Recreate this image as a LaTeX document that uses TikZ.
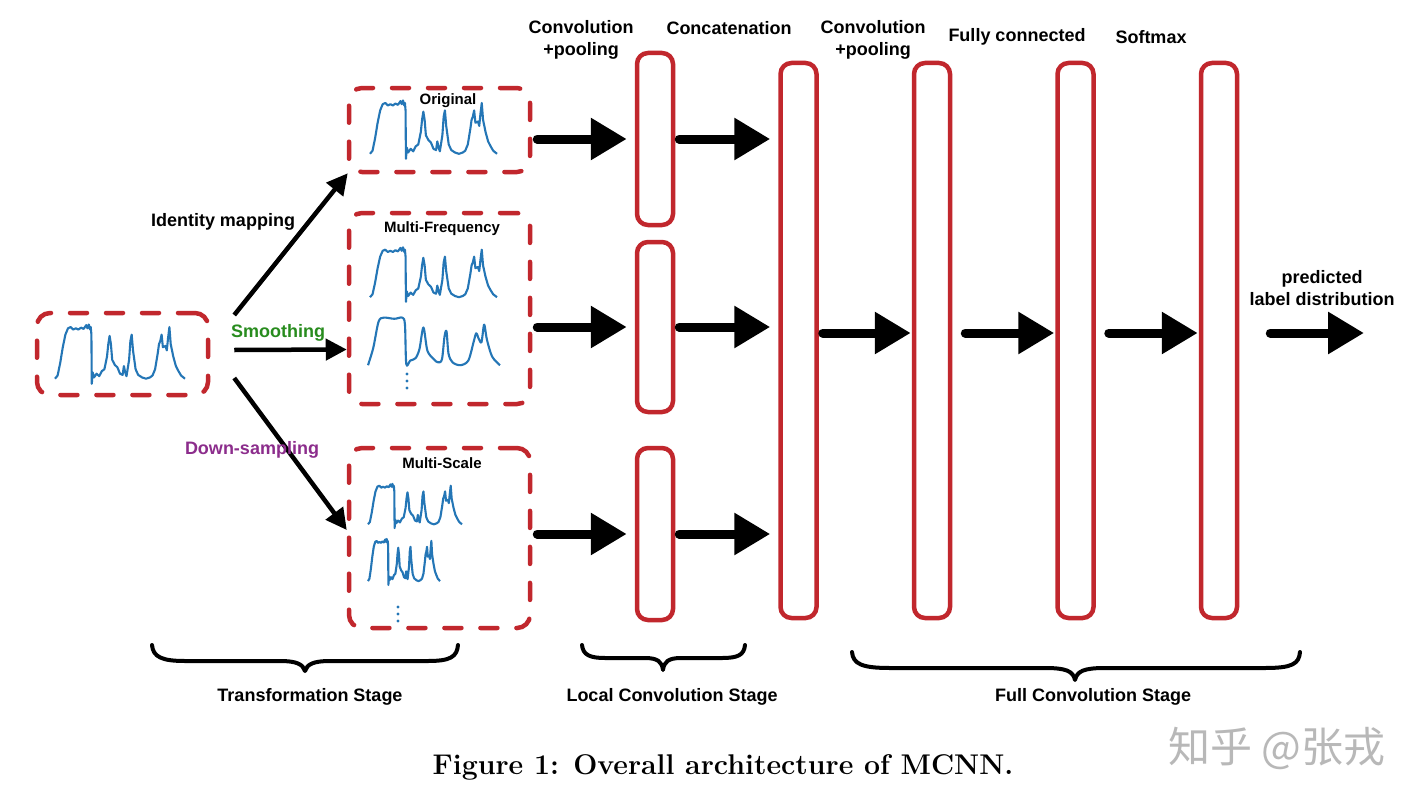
\documentclass[tikz,border=0pt]{standalone}
\usepackage{fontspec}
\newfontfamily\lab{Liberation Sans}
\newfontfamily\cjk{Noto Sans CJK SC}
\usetikzlibrary{arrows.meta}
\definecolor{boxred}{RGB}{193,39,45}
\definecolor{sigblue}{RGB}{36,118,182}
\definecolor{smgreen}{RGB}{40,140,30}
\definecolor{dspurple}{RGB}{140,45,140}
\tikzset{
  dbox/.style={draw=boxred,line width=4.5pt,dash pattern=on 17pt off 19pt,line cap=round,rounded corners=13pt,inner sep=0pt},
  col/.style={draw=boxred,line width=4.5pt,rounded corners=11pt,inner sep=0pt,minimum width=36pt},
  sig/.style={draw=sigblue,line width=2.1pt,line join=round},
  bigarrow/.style={line width=9pt,line cap=round,-{Triangle[length=36pt,width=40pt]}},
  diag/.style={line width=4.5pt,-{Triangle[length=21pt,width=21pt]}},
  lbl/.style={font=\lab\bfseries\fontsize{18}{22}\selectfont,inner sep=0pt,align=center},
  slbl/.style={font=\lab\bfseries\fontsize{15}{18}\selectfont,inner sep=0pt},
  brace/.style={line width=4pt,line cap=round,line join=round}
}
\newcommand\rawsignal[4]{\draw[sig,shift={(#1,#2)},xscale=#3,yscale=#4] plot coordinates {(0,90) (2,85) (4,65) (6,40) (8,20) (10,10) (12,8) (14,12) (16,10) (18,12) (20,9) (22,11) (24,5) (25,10) (26,4) (27,12) (27.5,8) (28,20) (28.3,98) (29,80) (30,88) (32,82) (34,86) (36,78) (38,75) (40,55) (41,35) (42,22) (43,35) (44,60) (46,68) (48,72) (50,82) (52,84) (53,70) (54,80) (55,86) (57,60) (58,30) (59,20) (60,45) (62,75) (64,84) (67,88) (70,90) (73,88) (75,85) (77,75) (79,50) (80,35) (81,30) (82,20) (83,40) (85,38) (86,45) (87,25) (88,8) (89,35) (91,55) (93,70) (95,78) (97,85) (100,90)};}
\newcommand\smoothsignal[4]{\draw[sig,shift={(#1,#2)},xscale=#3,yscale=#4] plot[smooth,tension=0.5] coordinates {(0,90) (4,60) (8,15) (12,8) (20,10) (26,8) (28,20) (29,88) (32,82) (36,78) (39,62) (42,25) (45,65) (50,80) (53,85) (56,80) (58,40) (59.5,32) (61,70) (64,85) (70,90) (76,82) (80,50) (82,35) (84,45) (86,50) (88,20) (90,45) (94,75) (100,90)};}
\newcommand\vdotsat[2]{\fill[sigblue] (#1,#2) circle (1.7pt) (#1,#2+7) circle (1.7pt) (#1,#2+14) circle (1.7pt);}
\begin{document}
\begin{tikzpicture}[x=1pt,y=-1pt]
\useasboundingbox (0,0) rectangle (1424,808);
\fill[white] (0,0) rectangle (1424,808);
% transformation boxes
\node[dbox,minimum width=171pt,minimum height=82pt] (in) at (122.5,354) {};
\node[dbox,minimum width=181pt,minimum height=84pt] (orig) at (439.5,130) {};
\node[dbox,minimum width=181pt,minimum height=191pt] (mf) at (439.5,308.5) {};
\node[dbox,minimum width=181pt,minimum height=180pt] (ms) at (439.5,538) {};
% signals
\rawsignal{55}{322}{1.30}{0.63}
\rawsignal{370}{98}{1.27}{0.62}
\rawsignal{370}{245}{1.27}{0.58}
\smoothsignal{368}{313}{1.32}{0.58}
\vdotsat{407}{374}
\rawsignal{368}{482}{0.94}{0.47}
\rawsignal{368}{537}{0.72}{0.49}
\vdotsat{398}{607}
% box labels
\node[slbl] (tOrig) at (448,101) {Original};
\node[slbl] (tMF) at (442,229) {Multi-Frequency};
\node[slbl] (tMS) at (442,463) {Multi-Scale};
% diagonal arrows
\draw[diag] ([xshift=24pt,yshift=39pt]in.east) -- ([xshift=1pt,yshift=1pt]orig.south west);
\draw[diag] ([xshift=24pt,yshift=4pt]in.east) -- ([yshift=-41pt]mf.west);
\draw[diag] ([xshift=24pt,yshift=-24pt]in.east) -- ([yshift=8pt]ms.west);
\node[lbl] (tId) at (223,222) {Identity mapping};
\node[lbl,text=smgreen] (tSm) at (278,333) {Smoothing};
\node[lbl,text=dspurple] (tDs) at (252,450) {Down-sampling};
% local conv columns
\node[col,minimum height=172pt] (lc1) at (655,139) {};
\node[col,minimum height=170pt] (lc2) at (655,327) {};
\node[col,minimum height=172pt] (lc3) at (655,534) {};
% full columns
\node[col,minimum height=555pt] (cat) at (798.5,340.5) {};
\node[col,minimum height=555pt] (cv) at (932,340.5) {};
\node[col,minimum height=555pt] (fc) at (1075.5,340.5) {};
\node[col,minimum height=555pt] (sm) at (1219,340.5) {};
\coordinate (out) at (1364,333);
% big arrows
\draw[bigarrow,shorten <=5pt,shorten >=8pt] (orig.east |- lc1) -- (lc1);
\draw[bigarrow,shorten <=4pt,shorten >=8pt] (lc1) -- (cat.west |- lc1);
\draw[bigarrow,shorten <=5pt,shorten >=8pt] (mf.east |- lc2) -- (lc2);
\draw[bigarrow,shorten <=4pt,shorten >=8pt] (lc2) -- (cat.west |- lc2);
\draw[bigarrow,shorten <=5pt,shorten >=8pt] (ms.east |- lc3) -- (lc3);
\draw[bigarrow,shorten <=4pt,shorten >=8pt] (lc3) -- (cat.west |- lc3);
\draw[bigarrow,shorten <=4pt,shorten >=1pt] (cat.east |- out) -- (cv.west |- out);
\draw[bigarrow,shorten <=13pt,shorten >=1pt] (cv.east |- out) -- (fc.west |- out);
\draw[bigarrow,shorten <=13pt,shorten >=1pt] (fc.east |- out) -- (sm.west |- out);
\draw[bigarrow,shorten <=31pt] (sm.east |- out) -- (out);
% top labels
\node[lbl] (tC1) at (581,40) {Convolution\\+pooling};
\node[lbl] (tCat) at (729,28) {Concatenation};
\node[lbl] (tC2) at (873,40) {Convolution\\+pooling};
\node[lbl] (tFc) at (1017,37) {Fully connected};
\node[lbl] (tSmx) at (1151,37) {Softmax};
\node[lbl] (tPred) at (1322,288) {predicted\\label distribution};
% braces
\draw[brace] (152,645) .. controls (153,657) and (162,661) .. (185,661) -- (280,661) .. controls (296,661) and (303,664) .. (305,671) .. controls (307,664) and (314,661) .. (330,661) -- (428,661) .. controls (450,661) and (457,657) .. (458,645);
\draw[brace] (582,645) .. controls (583,655) and (590,658) .. (605,658) -- (645,658) .. controls (658,658) and (662,662) .. (663,670) .. controls (664,662) and (668,658) .. (681,658) -- (722,658) .. controls (738,658) and (744,655) .. (745,645);
\draw[brace] (852,652) .. controls (853,664) and (862,668) .. (890,668) -- (1045,668) .. controls (1066,668) and (1073,671) .. (1075,680) .. controls (1077,671) and (1084,668) .. (1105,668) -- (1265,668) .. controls (1292,668) and (1299,664) .. (1300,652);
\node[lbl] (sT) at (310,697) {Transformation Stage};
\node[lbl] (sL) at (672,697) {Local Convolution Stage};
\node[lbl] (sF) at (1093,697) {Full Convolution Stage};
% caption
\node[font=\bfseries\fontsize{28.5}{32}\selectfont,inner sep=0pt] (cap) at (723,767) {Figure 1: Overall architecture of MCNN.};
\node[font=\cjk\fontsize{42}{46}\selectfont,text=black!28,inner sep=0pt] (wm) at (1277,748) {知乎 @张戎};
\end{tikzpicture}
\end{document}
